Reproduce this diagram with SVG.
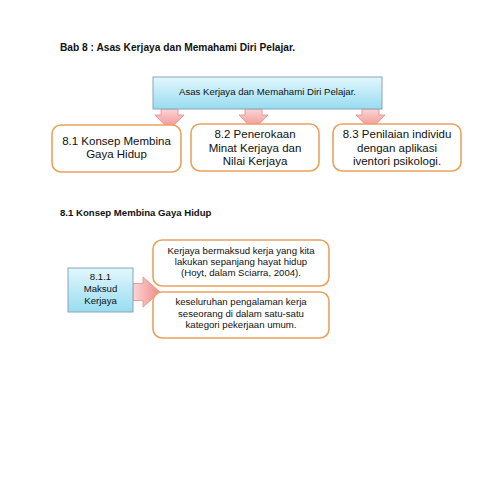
<svg xmlns="http://www.w3.org/2000/svg" width="495" height="495" viewBox="0 0 495 495">
<defs>
<linearGradient id="blue" x1="0" y1="0" x2="0" y2="1">
<stop offset="0" stop-color="#e2f7fd"/><stop offset="1" stop-color="#98dcf0"/>
</linearGradient>
<linearGradient id="pinkV" x1="0" y1="0" x2="0" y2="1">
<stop offset="0" stop-color="#fbd6d6"/><stop offset="1" stop-color="#f08a8a"/>
</linearGradient>
<linearGradient id="pinkH" x1="0" y1="0" x2="1" y2="0">
<stop offset="0" stop-color="#fbd6d6"/><stop offset="1" stop-color="#f08a8a"/>
</linearGradient>
<style>
.t{font-family:"Liberation Sans",Arial,sans-serif;fill:#111}
.h{font-size:9.6px;font-weight:bold}
.bb{fill:url(#blue);stroke:#8aa6b5;stroke-width:1}
.ob{fill:#fff;stroke:#e9a25e;stroke-width:1.6}
.pa{stroke:#e58a8a;stroke-width:0.8}
.big{font-size:11.5px}
.sm{font-size:9.6px}
</style>
</defs>
<rect width="495" height="495" fill="#fff"/>
<text class="t h" x="60" y="51" style="font-size:10.2px">Bab 8 : Asas Kerjaya dan Memahami Diri Pelajar.</text>
<text class="t h" x="60" y="216">8.1 Konsep Membina Gaya Hidup</text>

<g id="connectors">
<path class="pa" fill="url(#pinkV)" d="M161,109 h17 v6 h6 l-14.5,15 l-14.5,-15 h6 z"/>
<path class="pa" fill="url(#pinkV)" d="M245,109 h17 v6 h6 l-14.5,15 l-14.5,-15 h6 z"/>
<path class="pa" fill="url(#pinkV)" d="M362,109 h17 v6 h6 l-14.5,15 l-14.5,-15 h6 z"/>
<path class="pa" fill="url(#pinkH)" d="M133,283.5 h10 v-6.5 l17,15 l-17,15 v-6.5 h-10 z"/>
</g>

<g id="top">
<rect class="bb" x="153" y="77" width="229" height="32"/>
<text class="t sm" x="267.5" y="94.5" text-anchor="middle">Asas Kerjaya dan Memahami Diri Pelajar.</text>
</g>

<g id="n81">
<rect class="ob" x="52" y="125" width="129" height="47" rx="9"/>
<text class="t big" text-anchor="middle"><tspan x="116.5" y="145">8.1 Konsep Membina</tspan><tspan x="116.5" y="158">Gaya Hidup</tspan></text>
</g>
<g id="n82">
<rect class="ob" x="191" y="124" width="128" height="47" rx="9"/>
<text class="t big" text-anchor="middle"><tspan x="255" y="138">8.2 Penerokaan</tspan><tspan x="255" y="151.5">Minat Kerjaya dan</tspan><tspan x="255" y="165">Nilai Kerjaya</tspan></text>
</g>
<g id="n83">
<rect class="ob" x="333" y="124" width="128" height="47" rx="9"/>
<text class="t big" text-anchor="middle"><tspan x="397" y="138">8.3 Penilaian individu</tspan><tspan x="397" y="151.5">dengan aplikasi</tspan><tspan x="397" y="165">iventori psikologi.</tspan></text>
</g>

<g id="n811">
<rect class="bb" x="68" y="268" width="65" height="44"/>
<text class="t sm" text-anchor="middle"><tspan x="100.5" y="279.5">8.1.1</tspan><tspan x="100.5" y="291.5">Maksud</tspan><tspan x="100.5" y="303.5">Kerjaya</tspan></text>
</g>

<g id="def1">
<rect class="ob" x="153" y="240" width="176" height="46" rx="9"/>
<text class="t sm" text-anchor="middle"><tspan x="241" y="253.5">Kerjaya bermaksud kerja yang kita</tspan><tspan x="241" y="264.5">lakukan sepanjang hayat hidup</tspan><tspan x="241" y="275.5">(Hoyt, dalam Sciarra, 2004).</tspan></text>
</g>
<g id="def2">
<rect class="ob" x="153" y="292" width="176" height="46" rx="9"/>
<text class="t sm" text-anchor="middle"><tspan x="241" y="305">keseluruhan pengalaman kerja</tspan><tspan x="241" y="316.5">seseorang di dalam satu-satu</tspan><tspan x="241" y="328">kategori pekerjaan umum.</tspan></text>
</g>
</svg>
